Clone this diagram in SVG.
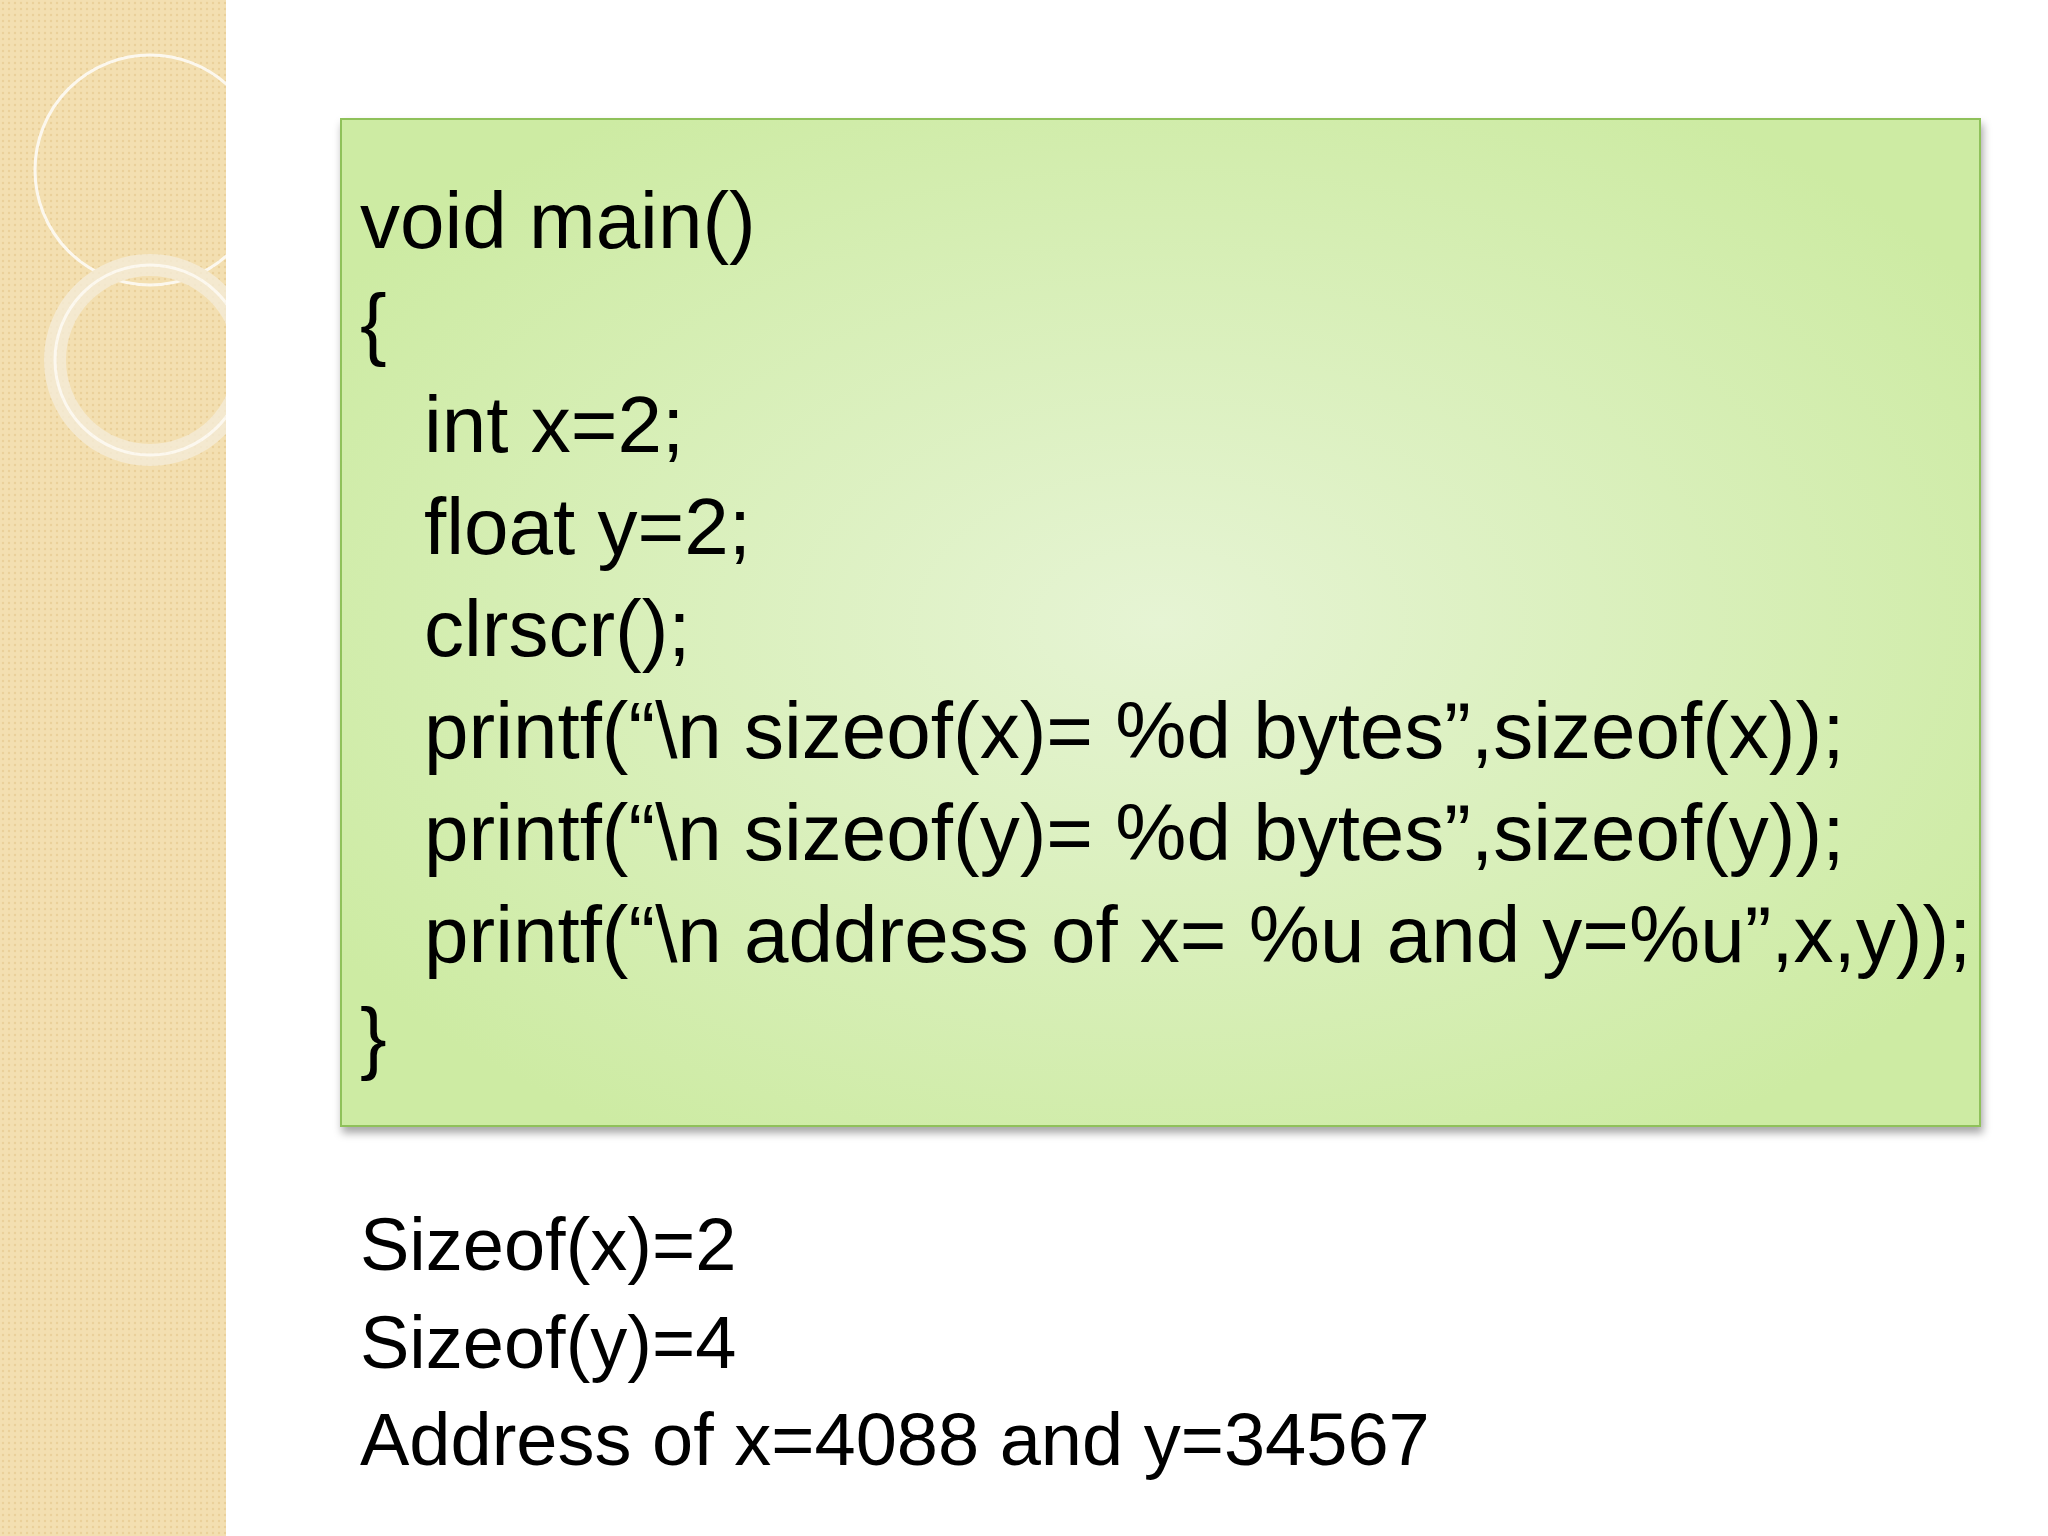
<svg xmlns="http://www.w3.org/2000/svg" width="2048" height="1536" viewBox="0 0 2048 1536">
<defs>
<radialGradient id="g" cx="0.5" cy="0.5" r="0.6">
<stop offset="0" stop-color="#e6f4d4"/>
<stop offset="1" stop-color="#cdeba3"/>
</radialGradient>
<pattern id="p" width="6" height="6" patternUnits="userSpaceOnUse">
<rect width="6" height="6" fill="#f3dfb1"/>
<circle cx="3" cy="3" r="1.2" fill="#ead09a"/>
</pattern>
<clipPath id="c"><rect width="226" height="1536"/></clipPath>
<filter id="s" x="-5%" y="-5%" width="110%" height="110%"><feDropShadow dx="2" dy="6" stdDeviation="4" flood-opacity="0.35"/></filter>
</defs>
<style>
.t{font-family:"Liberation Sans",Arial,sans-serif;font-size:80px;fill:#000}
.o{font-family:"Liberation Sans",Arial,sans-serif;font-size:74px;fill:#000}
</style>
<rect width="2048" height="1536" fill="#fff"/>
<rect width="226" height="1536" fill="url(#p)"/>
<g fill="none" stroke="#fff" opacity="0.8" clip-path="url(#c)">
<circle cx="150" cy="170" r="115" stroke-width="3"/>
<circle cx="150" cy="360" r="95" stroke-width="22" stroke="#f5ecd8"/>
<circle cx="150" cy="360" r="95" stroke-width="3"/>
</g>
<g id="code">
<rect x="341" y="119" width="1639" height="1007" fill="url(#g)" stroke="#8fc15a" stroke-width="2" filter="url(#s)"/>
<text class="t" x="360" y="248">void main()</text>
<text class="t" x="360" y="350">{</text>
<text class="t" x="424" y="452">int x=2;</text>
<text class="t" x="424" y="554">float y=2;</text>
<text class="t" x="424" y="656">clrscr();</text>
<text class="t" x="424" y="758">printf(“\n sizeof(x)= %d bytes”,sizeof(x));</text>
<text class="t" x="424" y="860">printf(“\n sizeof(y)= %d bytes”,sizeof(y));</text>
<text class="t" x="424" y="962">printf(“\n address of x= %u and y=%u”,x,y));</text>
<text class="t" x="360" y="1064">}</text>
</g>
<g id="output">
<text class="o" x="360" y="1270">Sizeof(x)=2</text>
<text class="o" x="360" y="1368">Sizeof(y)=4</text>
<text class="o" x="360" y="1465">Address of x=4088 and y=34567</text>
</g>
<g id="connectors"/>
</svg>
